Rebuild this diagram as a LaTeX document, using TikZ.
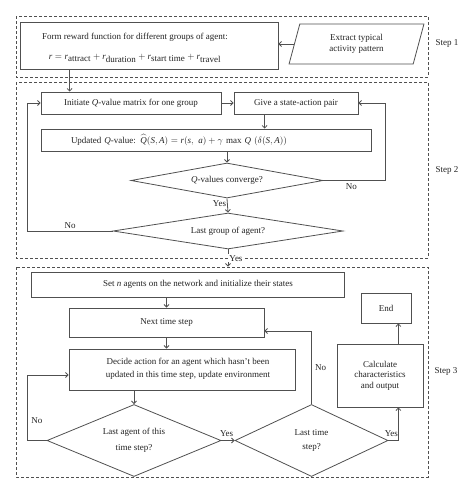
\documentclass[tikz,border=0pt]{standalone}
\usepackage{fontspec}
\setmainfont{Liberation Serif}
\usetikzlibrary{arrows.meta,shapes.geometric}
\definecolor{lc}{HTML}{505050}
\definecolor{tc}{HTML}{222222}
\newcommand\fsz[1]{\fontsize{9}{#1}\selectfont}
\newcommand\mi[1]{\textit{#1}}
\begin{document}
\begin{tikzpicture}[x=1pt,y=-1pt,
  every node/.style={text=tc},
  font=\fsz{10},
  line/.style={draw=lc, line width=0.8pt},
  arr/.style={line, -{Straight Barb[length=2.6pt,width=5pt]}},
  box/.style={line, rectangle, inner sep=0pt, align=center},
  dia/.style={line, diamond, inner sep=0pt, align=center},
  stepframe/.style={draw=lc, line width=0.8pt, dash pattern=on 3pt off 2pt},
  lbl/.style={inner sep=2.5pt}
]
\useasboundingbox (0,0) rectangle (474,493);

% step frames
\draw[stepframe] (16,16) rectangle (428,77);
\draw[stepframe] (16,82) rectangle (428,258);
\draw[stepframe] (16,267) rectangle (428,477);
\node (s1) at (447,43) {Step 1};
\node (s2) at (447,170) {Step 2};
\node (s3) at (446,371) {Step 3};

% step 1
\node[box, minimum width=258pt, minimum height=47pt] (form) at (149,45.5) {};
\node (formt) at (135,37) {Form reward function for different groups of agent:};
\node (formf) at (135,58) {$\mi{r} = \mi{r}_{\textrm{attract}} + \mi{r}_{\textrm{duration}} + \mi{r}_{\textrm{start time}} + \mi{r}_{\textrm{travel}}$};
\node[line, trapezium, trapezium left angle=75, trapezium right angle=105, trapezium stretches=true,
      minimum width=135pt, minimum height=40pt, inner sep=0pt, align=center, font=\fsz{11}]
      (extract) at (356.5,44) {Extract typical\\activity pattern};

% step 2
\node[box, minimum width=180pt, minimum height=22pt] (init) at (131,103) {Initiate \mi{Q}-value matrix for one group};
\node[box, minimum width=124pt, minimum height=22pt] (give) at (296,103) {Give a state-action pair};
\node[box, minimum width=330pt, minimum height=22pt, text width=270pt, align=left] (upd) at (206,140)
  {Updated \mi{Q}-value: $\widehat{\mi{Q}}(\mi{S}, \mi{A}) = \mi{r}(\mi{s},\ \mi{a}) + \gamma\ \textrm{max}\ \mi{Q}\ (\delta(\mi{S}, \mi{A}))$};
\node[dia, aspect=5.5, minimum width=192pt, minimum height=35pt] (qc) at (227,180.5) {\mi{Q}-values converge?};
\node[dia, aspect=6.4, minimum width=230pt, minimum height=36pt] (lg) at (228,231) {Last group of agent?};

% step 3
\node[box, minimum width=313pt, minimum height=25pt] (setn) at (187.5,284.5) {};
\node (setnt) at (198,284.5) {Set \mi{n} agents on the network and initialize their states};
\node[box, minimum width=195pt, minimum height=29pt] (next) at (166.5,322.5) {Next time step};
\node[box, minimum width=226pt, minimum height=41pt] (decide) at (182,369.5) {};
\node[align=center, font=\fsz{13}] (decidet) at (188,368.5) {Decide action for an agent which hasn't been\\updated in this time step, update environment};
\node[dia, aspect=2.4, minimum width=174pt, minimum height=72pt, font=\fsz{16}] (la) at (134,440.5) {Last agent of this\\time step?};
\node[dia, aspect=2.1, minimum width=153pt, minimum height=72pt, font=\fsz{14.5}] (lt) at (311.5,440.5) {Last time\\step?};
\node[box, minimum width=50pt, minimum height=30pt] (end) at (386,308) {End};
\node[box, minimum width=86pt, minimum height=63pt, font=\fsz{10.5}] (calc) at (380,375.5) {Calculate\\characteristics\\and output};

% connectors step 1
\draw[arr] (extract.west) -- (extract.west -| form.east);
\draw[arr] (form.south west) ++(50,0) coordinate (fa) -- (fa |- init.north);

% connectors step 2
\draw[arr] (init.east) -- (give.west);
\draw[arr] (give.south west) ++(31,0) coordinate (ga) -- (ga |- upd.north);
\draw[arr] (upd.south -| qc.north) -- (qc.north);
\draw[arr] (qc.south) -- node[left, pos=0.4, inner sep=1pt] {Yes} (lg.north);
\draw[arr] (qc.east) -- node[below, pos=0.45, lbl] {No} ++(62,0) |- (give.east);
\draw[arr] (lg.west) -- node[above, pos=0.5, lbl] {No} ++(-85,0) |- (init.west);
\draw[arr, shorten >=5pt] (lg.south) -- node[right, pos=0.4, inner sep=1pt, fill=white] {Yes} (lg.south |- setn.north);

% connectors step 3
\draw[arr] (setn.south -| next.north) -- (next.north);
\draw[arr] (next.south) -- (next.south |- decide.north);
\draw[arr] (decide.south -| la.north) -- (la.north);
\draw[arr] (la.east) -- node[above, pos=0.4] {Yes} (lt.west);
\draw[arr] (la.west) -- ++(-19,0) |- node[right, pos=0.15] {No} ([yshift=-5.5pt]decide.west);
\draw[arr] (lt.north) |- node[right, pos=0.25] {No} ([yshift=-8.5pt]next.east);
\draw[arr] (lt.east) -- node[above, pos=0.3] {Yes} ++(10,0) coordinate (lc1) -- (lc1 |- calc.south);
\draw[arr] (lc1 |- calc.north) -- (lc1 |- end.south);
\end{tikzpicture}
\end{document}
